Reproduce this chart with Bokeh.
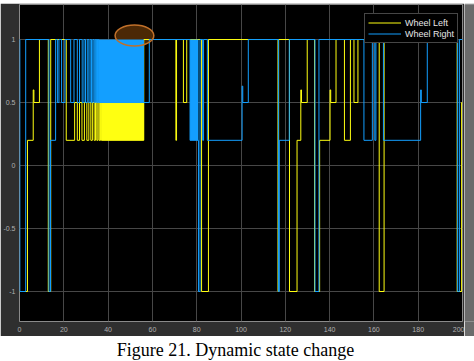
from bokeh.plotting import figure
from bokeh.models import FixedTicker, Label
from bokeh.layouts import column, row
from bokeh.embed import file_html
from bokeh.resources import INLINE

# ---------------- data ----------------
x_ticks = [0, 20, 40, 60, 80, 100, 120, 140, 160, 180, 200]
y_ticks = [-1, -0.5, 0, 0.5, 1]
y_tick_labels = ["-1", "-0.5", "0", "0.5", "1"]
series_names = ["Wheel Left", "Wheel Right"]
caption_text = "Figure 21. Dynamic state change"

# Wheel Left (yellow): time of change, value held after it
left_t = [0.0, 3.6, 6.2, 6.5, 9.0, 13.0, 14.1, 21.1, 24.9, 26.1, 27.1, 28.2, 29.3, 30.4,
          31.3, 32.2, 32.9, 33.7, 34.3, 34.9, 35.4, 35.9, 36.3, 36.6, 36.9, 37.1, 56.1,
          70.6, 70.9, 74.0, 75.5, 82.2, 85.3, 116.7, 117.0, 121.9, 125.3, 127.0, 127.3,
          129.9, 133.2, 135.5, 140.2, 140.5, 142.9, 146.7, 149.4, 151.0, 152.8, 162.4,
          164.6, 197.6, 199.6, 200.0]
left_v = [-1, 0.2, 0.6, 0.5, 1, -1, 1, 0.2, 0.5, 0.2, 0.5, 0.2, 0.5, 0.2,
          0.5, 0.2, 0.5, 0.2, 0.5, 0.2, 0.5, 0.2, 0.5, 0.2, 0.5, 0.2, 1,
          0.2, 1, 0.5, 1, -1, 1, -1, 1, -1, 0.2, 0.6, 0.5,
          1, -1, 0.2, 0.6, 0.5, 1, 0.2, 1, 0.5, 1, -1,
          1, -1, 0.5, 0.5]

# Wheel Right (blue)
right_t = [0.0, 0.15, 2.8, 13.3, 14.0, 16.3, 17.1, 17.8, 19.0, 20.5, 23.1, 24.6, 26.1,
           27.1, 28.3, 29.1, 29.8, 30.6, 31.3, 31.9, 32.5, 33.1, 33.6, 34.0, 34.4, 34.7,
           35.0, 35.2, 35.4, 35.6, 35.8, 58.6, 77.0, 80.8, 81.5, 82.7, 83.1, 84.8, 100.5,
           100.8, 103.3, 116.9, 117.3, 121.8, 133.4, 135.2, 155.5, 159.3, 160.4, 160.9,
           164.3, 181.1, 181.4, 184.1, 197.8, 198.6, 200.0]
right_v = [1, -1, 1, -1, 0.2, 1, 0.5, 1, 0.5, 1, 0.5, 1, 0.5,
           1, 0.5, 1, 0.5, 1, 0.5, 1, 0.5, 1, 0.5, 1, 0.5, 1,
           0.5, 1, 0.5, 1, 0.5, 1, 0.2, -1, 1, 0.2, 1, 0.2, 0.63,
           0.5, 1, -1, 0.2, 1, -1, 1, 0.2, 1, 0.2, 1,
           0.2, 0.6, 0.5, 1, -1, 1, 1]

# spans where the signals switch too fast to resolve (drawn solid)
left_band_x0 = [37.1]
left_band_x1 = [56.2]
left_band_y0 = [0.2]
left_band_y1 = [0.5]
right_band_x0 = [35.8, 77.0]
right_band_x1 = [56.2, 80.8]
right_band_y0 = [0.5, 0.2]
right_band_y1 = [1.0, 1.0]

# highlighted region (ellipse)
mark_x = [51.9]
mark_y = [1.032]
mark_w = [17.5]
mark_h = [0.167]

# ---------------- style ----------------
YEL = "#FFFF11"
BLU = "#139FFF"
BG = "#2f2f2f"
TICK = "#b0b0b0"

p = figure(width=464, height=333, x_range=(0, 200), y_range=(-1.238, 1.278),
           output_backend="svg", toolbar_location=None,
           min_border_left=17, min_border_right=2, min_border_top=1, min_border_bottom=15,
           background_fill_color="black", border_fill_color=BG,
           outline_line_color="#8a8a8a")

p.xaxis.ticker = FixedTicker(ticks=x_ticks)
p.yaxis.ticker = FixedTicker(ticks=y_ticks)
p.yaxis.major_label_overrides = dict(zip(y_ticks, y_tick_labels))
for ax in (p.xaxis, p.yaxis):
    ax.axis_line_color = None
    ax.major_tick_line_color = None
    ax.minor_tick_line_color = None
    ax.major_tick_out = 0
    ax.major_tick_in = 0
    ax.major_label_text_color = TICK
    ax.major_label_text_font = "Liberation Sans"
    ax.major_label_text_font_size = "7px"
p.xaxis.major_label_standoff = 5
p.yaxis.major_label_standoff = 4
p.xgrid.grid_line_color = "#474747"
p.ygrid.grid_line_color = "#474747"

p.ellipse(x=mark_x, y=mark_y, width=mark_w, height=mark_h,
          fill_color="#4b2805", line_color=None)

p.step(left_t, left_v, mode="after", line_color=YEL, line_width=1,
       legend_label=series_names[0])
p.quad(left=left_band_x0, right=left_band_x1, bottom=left_band_y0, top=left_band_y1,
       fill_color=YEL, line_color=None)
p.step(right_t, right_v, mode="after", line_color=BLU, line_width=1,
       legend_label=series_names[1])
p.quad(left=right_band_x0, right=right_band_x1, bottom=right_band_y0, top=right_band_y1,
       fill_color=BLU, line_color=None)

p.ellipse(x=mark_x, y=mark_y, width=mark_w, height=mark_h,
          fill_color=None, line_color="#c0702a", line_width=1.5)

lg = p.legend[0]
lg.location = (345, 278)
lg.background_fill_color = "black"
lg.background_fill_alpha = 1
lg.border_line_color = "#8c8c8c"
lg.label_text_color = "#e6e6e6"
lg.label_text_font = "Liberation Sans"
lg.label_text_font_size = "9px"
lg.glyph_width = 33
lg.glyph_height = 11
lg.label_height = 11
lg.label_standoff = 4
lg.padding = 3
lg.spacing = 0
lg.margin = 0


def blank(w, h, color):
    f = figure(width=w, height=h, x_range=(0, 1), y_range=(0, 1),
               output_backend="svg", toolbar_location=None,
               x_axis_type=None, y_axis_type=None, min_border=0,
               outline_line_color=None, background_fill_color=color,
               border_fill_color=color)
    return f


top_strip = blank(474, 3, "#c4c4c4")
right_strip = blank(10, 333, "#6b6b6b")
cap = blank(474, 25, "white")
cap.add_layout(Label(x=235, y=12, x_units="screen", y_units="screen",
                     text=caption_text, text_align="center",
                     text_baseline="alphabetic", text_font="Liberation Serif",
                     text_font_size="18px", text_color="black"))

layout = column(top_strip, row(p, right_strip), cap)

open("out.html", "w").write(file_html(layout, INLINE))
